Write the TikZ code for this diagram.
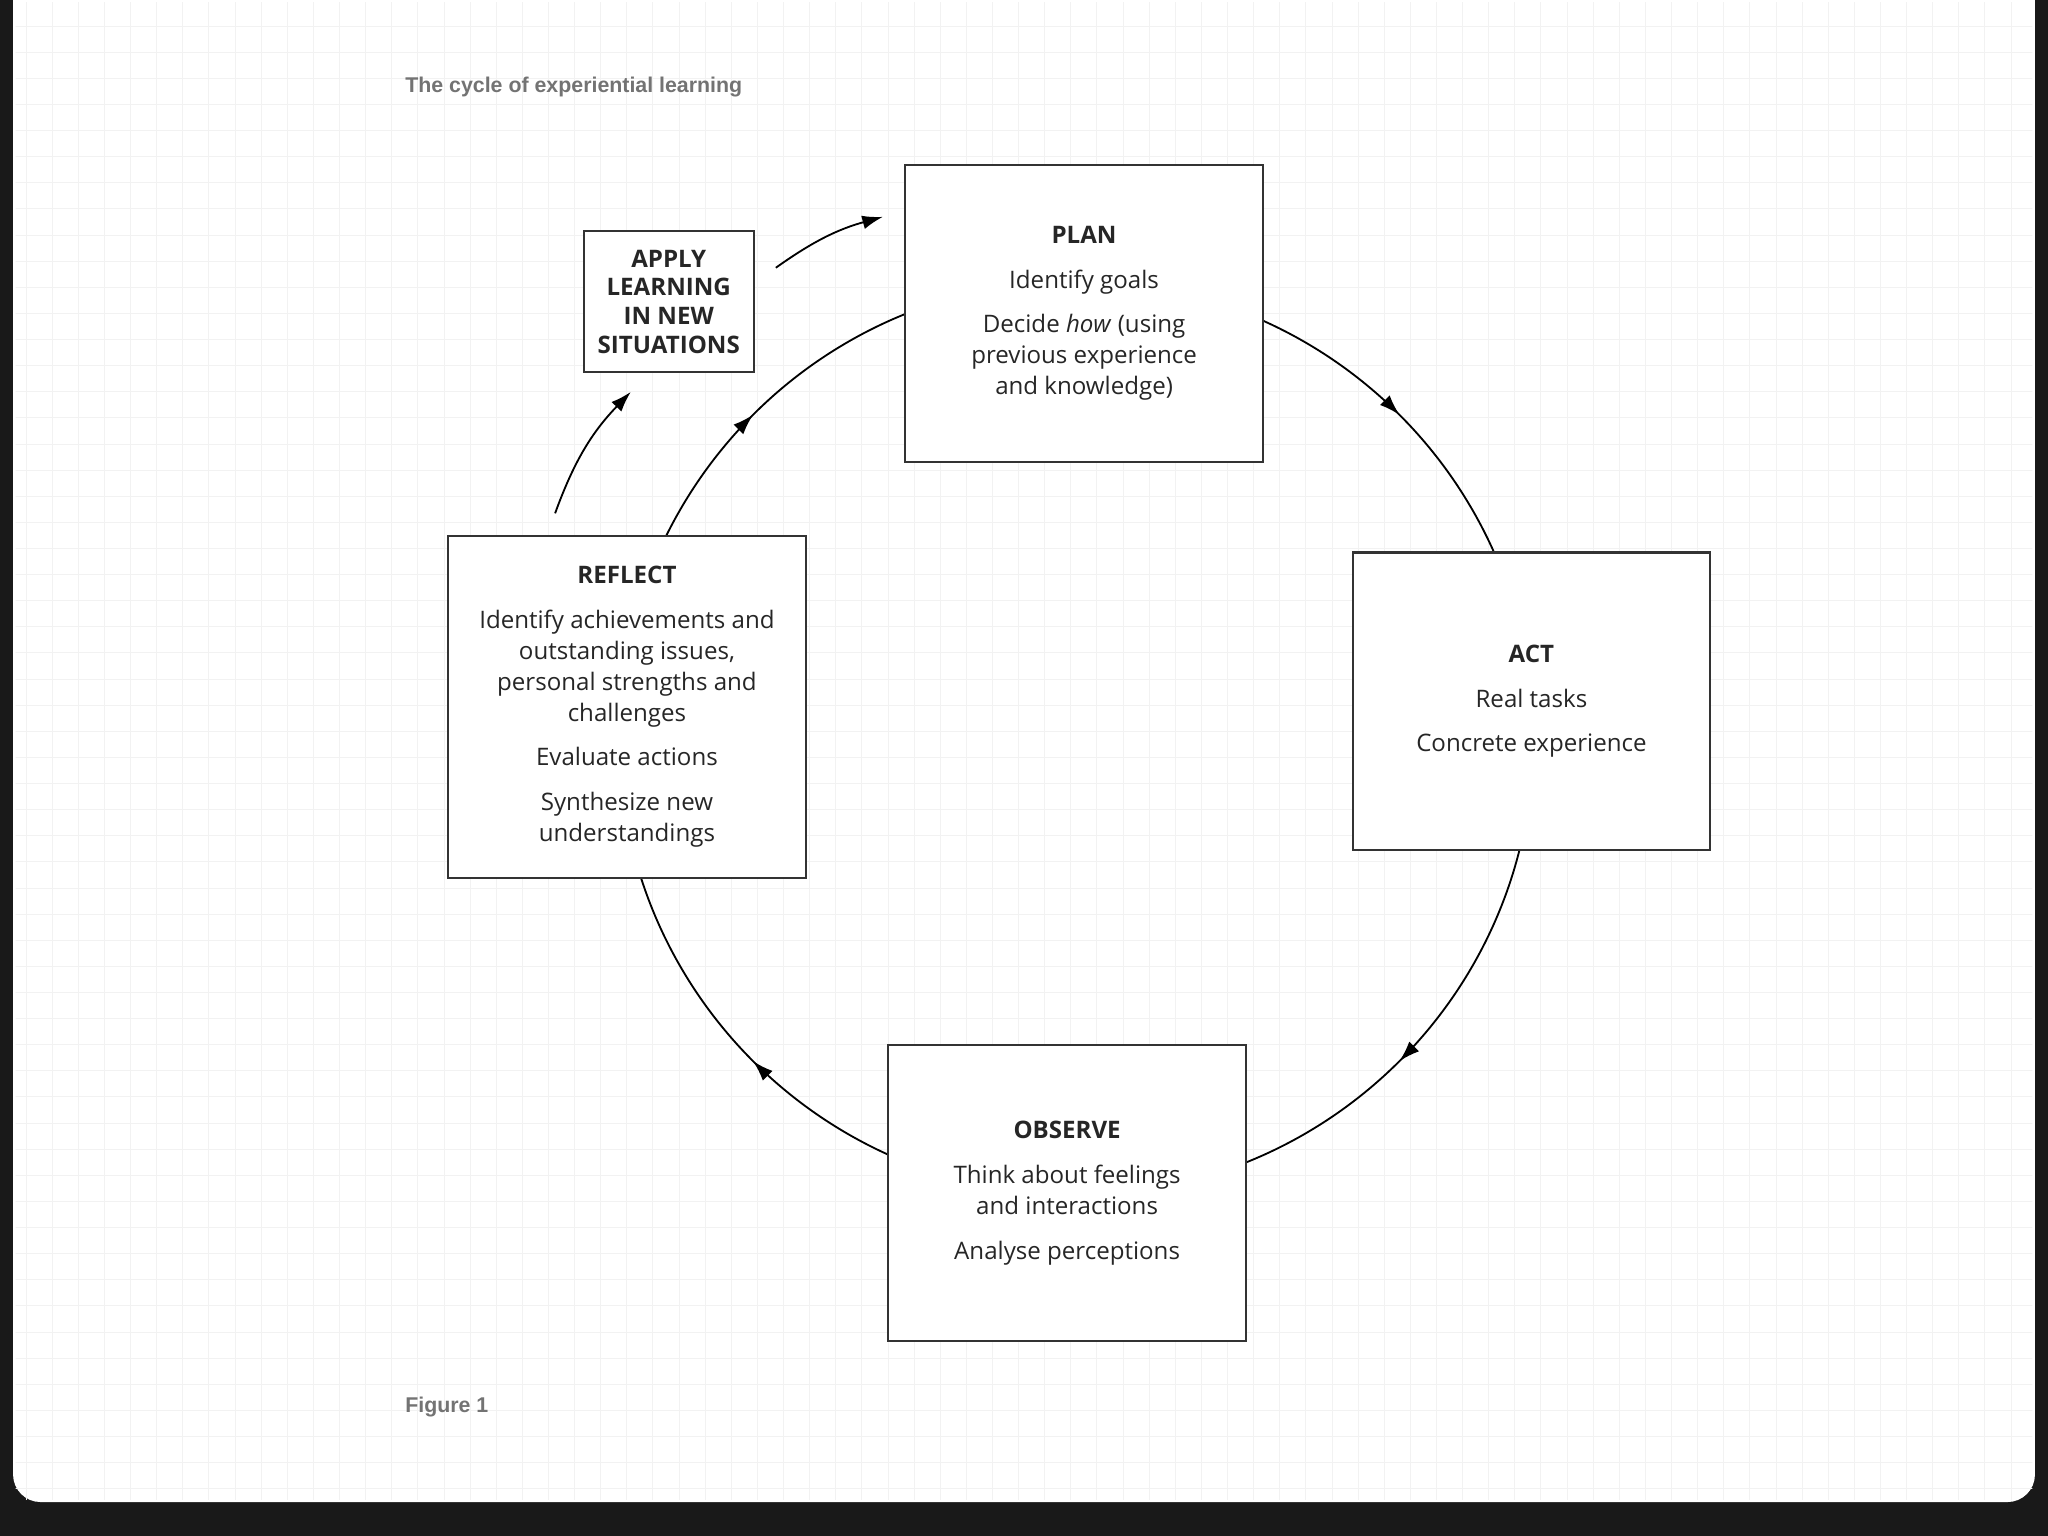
\documentclass[tikz,border=0pt]{standalone}
\usepackage{fontspec}
\setmainfont{Open Sans}
\newfontfamily\titlefont{Liberation Sans}
\usetikzlibrary{arrows.meta,decorations.markings}
\begin{document}
\begin{tikzpicture}[x=0.02cm,y=-0.02cm,
  box/.style={draw=black!80,line width=0.9pt,fill=white,align=center,inner sep=2pt,font=\fontsize{10.5}{13.5}\selectfont,text=black!85},
  conn/.style={line width=0.8pt,-{Latex[length=9pt,width=6pt]}},
  captext/.style={font=\titlefont\bfseries\fontsize{9.3}{11}\selectfont,text=black!55,anchor=west,inner sep=0pt}]
\useasboundingbox (0,0) rectangle (1568,1176);
\fill[black!90] (0,0) rectangle (1568,1176);
\fill[white,rounded corners=12pt] (10,-20) rectangle (1558,1150);
\begin{scope}
\clip (12,2) rectangle (1556,1148);
\draw[black!5,line width=0.4pt,step=0.4cm] (0,0) grid (1568,1176);
\end{scope}
\node[captext] (title) at (310,67) {The cycle of experiential learning};
\node[captext] (fig) at (310,1077) {Figure 1};
\coordinate (C) at (824,565);
\draw[line width=0.8pt,postaction={decorate},decoration={markings,
  mark=at position 0.125 with {\arrow{Latex[length=9pt,width=6pt]}},
  mark=at position 0.375 with {\arrow{Latex[length=9pt,width=6pt]}},
  mark=at position 0.625 with {\arrow{Latex[length=9pt,width=6pt]}},
  mark=at position 0.875 with {\arrow{Latex[length=9pt,width=6pt]}}}]
  (C) ++(0:7cm) arc[start angle=0,end angle=-360,radius=7cm];
\node[box,minimum width=5.48cm,minimum height=4.54cm] (plan) at (830,240)
 {{\bfseries PLAN}\\[6pt]Identify goals\\[6pt]Decide \textit{how} (using\\previous experience\\and knowledge)};
\node[box,minimum width=5.46cm,minimum height=4.56cm] (act) at (1172.5,537)
 {{\bfseries ACT}\\[6pt]Real tasks\\[6pt]Concrete experience};
\node[box,minimum width=5.48cm,minimum height=4.54cm] (observe) at (817,913.5)
 {{\bfseries OBSERVE}\\[6pt]Think about feelings\\and interactions\\[6pt]Analyse perceptions};
\node[box,minimum width=5.48cm,minimum height=5.24cm] (reflect) at (480,541)
 {{\bfseries REFLECT}\\[6pt]Identify achievements and\\outstanding issues,\\personal strengths and\\challenges\\[6pt]Evaluate actions\\[6pt]Synthesize new\\understandings};
\node[box,minimum width=2.6cm,minimum height=2.16cm,font=\bfseries\fontsize{10.5}{12.5}\selectfont] (apply) at (512,231)
 {APPLY\\LEARNING\\IN NEW\\SITUATIONS};
\coordinate (a1) at (425,393);
\coordinate (a2) at (483,300);
\coordinate (b1) at (594,205);
\coordinate (b2) at (676,166);
\draw[conn] (a1) to[bend left=12] (a2);
\draw[conn] (b1) to[bend left=10] (b2);
\end{tikzpicture}
\end{document}
